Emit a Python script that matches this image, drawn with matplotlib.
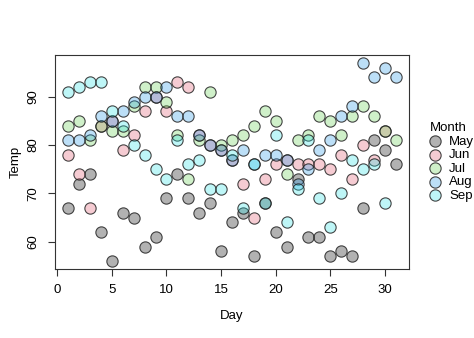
import matplotlib
matplotlib.use("Agg")
import matplotlib.pyplot as plt
import numpy as np

plt.rcParams['font.family'] = ['Liberation Sans', 'DejaVu Sans']

months = ["May", "Jun", "Jul", "Aug", "Sep"]
may = [67, 72, 74, 62, 56, 66, 65, 59, 61, 69, 74, 69, 66, 68, 58, 64, 66, 57, 68, 62, 59, 73, 61, 61, 57, 58, 57, 67, 81, 79, 76]
jun = [78, 74, 67, 84, 85, 79, 82, 87, 90, 87, 93, 92, 82, 80, 79, 77, 72, 65, 73, 76, 77, 76, 76, 76, 75, 78, 73, 80, 77, 83]
jul = [84, 85, 81, 84, 83, 83, 88, 92, 92, 89, 82, 73, 81, 91, 80, 81, 82, 84, 87, 85, 74, 81, 82, 86, 85, 82, 86, 88, 86, 83, 81]
aug = [81, 81, 82, 86, 85, 87, 89, 90, 90, 92, 86, 86, 82, 80, 79, 77, 79, 76, 78, 78, 77, 72, 75, 79, 81, 86, 88, 97, 94, 96, 94]
sep = [91, 92, 93, 93, 87, 84, 80, 78, 75, 73, 81, 76, 77, 71, 71, 78, 67, 76, 68, 82, 64, 71, 81, 69, 63, 70, 77, 75, 76, 68]
series = [may, jun, jul, aug, sep]
colors = ["#000000", "#DF536B", "#61D04F", "#2297E6", "#28E2E5"]

fig = plt.figure(figsize=(4.74, 3.38), dpi=100)
ax = fig.add_axes([55/474, 69/338, 354/474, 214/338])

for name, vals, c in zip(months, series, colors):
    days = np.arange(1, len(vals) + 1)
    fc = matplotlib.colors.to_rgba(c, 0.3)
    ax.scatter(days, vals, s=66, facecolors=[fc], edgecolors=[(0.15, 0.15, 0.15, 0.85)],
               linewidths=0.8, label=name)

ax.set_xlim(-0.2, 32.2)
ax.set_ylim(54.36, 98.64)
ax.set_xticks([0, 5, 10, 15, 20, 25, 30])
ax.set_yticks([60, 70, 80, 90])
ax.tick_params(direction='out', length=5, labelsize=9.5, color='#333333', width=0.8, pad=6)
for lab in ax.get_yticklabels():
    lab.set_rotation(90)
    lab.set_va('center')
for sp in ax.spines.values():
    sp.set_color('#333333')
    sp.set_linewidth(0.8)
ax.set_xlabel("Day", fontsize=9.5)
ax.set_ylabel("Temp", fontsize=9.5)
ax.xaxis.set_label_coords(0.5, -0.19)
ax.yaxis.set_label_coords(-0.095, 0.5)

leg = ax.legend(title="Month", loc='center left', bbox_to_anchor=(1.0, 0.5),
                frameon=False, fontsize=9.5, title_fontsize=9.5, handletextpad=0.05,
                labelspacing=0.1, borderaxespad=0.6, markerscale=1.0)

fig.savefig("out.png", dpi=100)
